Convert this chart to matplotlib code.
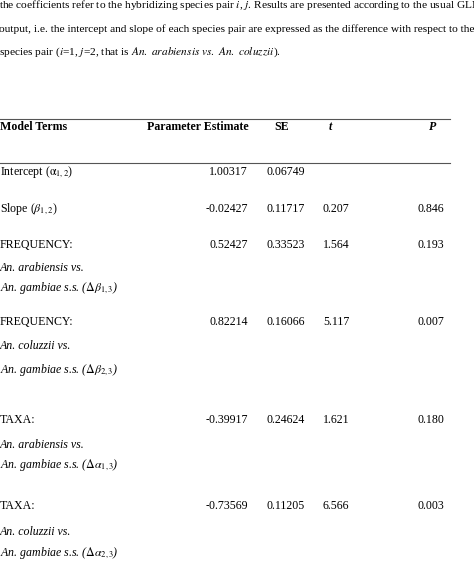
import matplotlib
matplotlib.use("Agg")
import matplotlib.pyplot as plt

W, H = 474, 564

intro_lines = [
    r"the coefficients refer to the hybridizing species pair $\it{i}$, $\it{j}$. Results are presented according to the usual GLM",
    "output, i.e. the intercept and slope of each species pair are expressed as the difference with respect to the first",
    r"species pair ($\it{i}$=1, $\it{j}$=2, that is $\it{An.}$ $\it{arabiensis}$ $\it{vs.}$ $\it{An.}$ $\it{coluzzii}$).",
]
headers = ["Model Terms", "Parameter Estimate", "SE", "t", "P"]
terms = [
    r"Intercept ($\mathrm{\alpha}_{1,2}$)",
    r"Slope ($\it{\beta}_{1,2}$)",
    "FREQUENCY:",
    "FREQUENCY:",
    "TAXA:",
    "TAXA:",
]
sublines = [
    None, None,
    ("An. arabiensis vs.", r"An. gambiae s.s. ($\Delta\beta_{1,3}$)"),
    ("An. coluzzii vs.", r"An. gambiae s.s. ($\Delta\beta_{2,3}$)"),
    ("An. arabiensis vs.", r"An. gambiae s.s. ($\Delta\alpha_{1,3}$)"),
    ("An. coluzzii vs.", r"An. gambiae s.s. ($\Delta\alpha_{2,3}$)"),
]
estimates = ["1.00317", "-0.02427", "0.52427", "0.82214", "-0.39917", "-0.73569"]
ses = ["0.06749", "0.11717", "0.33523", "0.16066", "0.24624", "0.11205"]
tvals = ["", "0.207", "1.564", "5.117", "1.621", "6.566"]
pvals = ["", "0.846", "0.193", "0.007", "0.180", "0.003"]

plt.rcParams["font.family"] = ["Liberation Serif", "DejaVu Serif"]
plt.rcParams["mathtext.fontset"] = "stix"

fig = plt.figure(figsize=(W / 100, H / 100), dpi=100)
ax = fig.add_axes([0, 0, 1, 1])
ax.set_xlim(0, W)
ax.set_ylim(H, 0)
ax.axis("off")

fs = 8.6
for y, line in zip([5, 29, 52], intro_lines):
    ax.text(-1, y, line, fontsize=8.2, va="center", ha="left")

ax.plot([0, 450], [119, 119], color="#555555", lw=0.8)
ax.plot([0, 450], [163, 163], color="#555555", lw=0.8)

hy = 127
ax.text(0, hy, headers[0], fontsize=fs, weight="bold", va="center")
ax.text(147, hy, headers[1], fontsize=fs, weight="bold", va="center")
ax.text(282, hy, headers[2], fontsize=fs, weight="bold", va="center", ha="center")
ax.text(329, hy, headers[3], fontsize=fs, weight="bold", style="italic", va="center")
ax.text(433, hy, headers[4], fontsize=fs, weight="bold", style="italic", va="center", ha="center")

row_y = [172, 209, 245, 322, 420, 506]
sub_y = [None, None, (268, 288), (346, 370), (445, 465), (532, 553)]
for i in range(len(terms)):
    y = row_y[i]
    ax.text(0, y, terms[i], fontsize=fs, va="center")
    ax.text(248, y, estimates[i], fontsize=fs, va="center", ha="right")
    ax.text(267, y, ses[i], fontsize=fs, va="center")
    ax.text(323, y, tvals[i], fontsize=fs, va="center")
    ax.text(444, y, pvals[i], fontsize=fs, va="center", ha="right")
    if sublines[i]:
        for sy, s in zip(sub_y[i], sublines[i]):
            ax.text(0, sy, s, fontsize=fs, va="center", style="italic")

fig.savefig("out.png", dpi=100)
